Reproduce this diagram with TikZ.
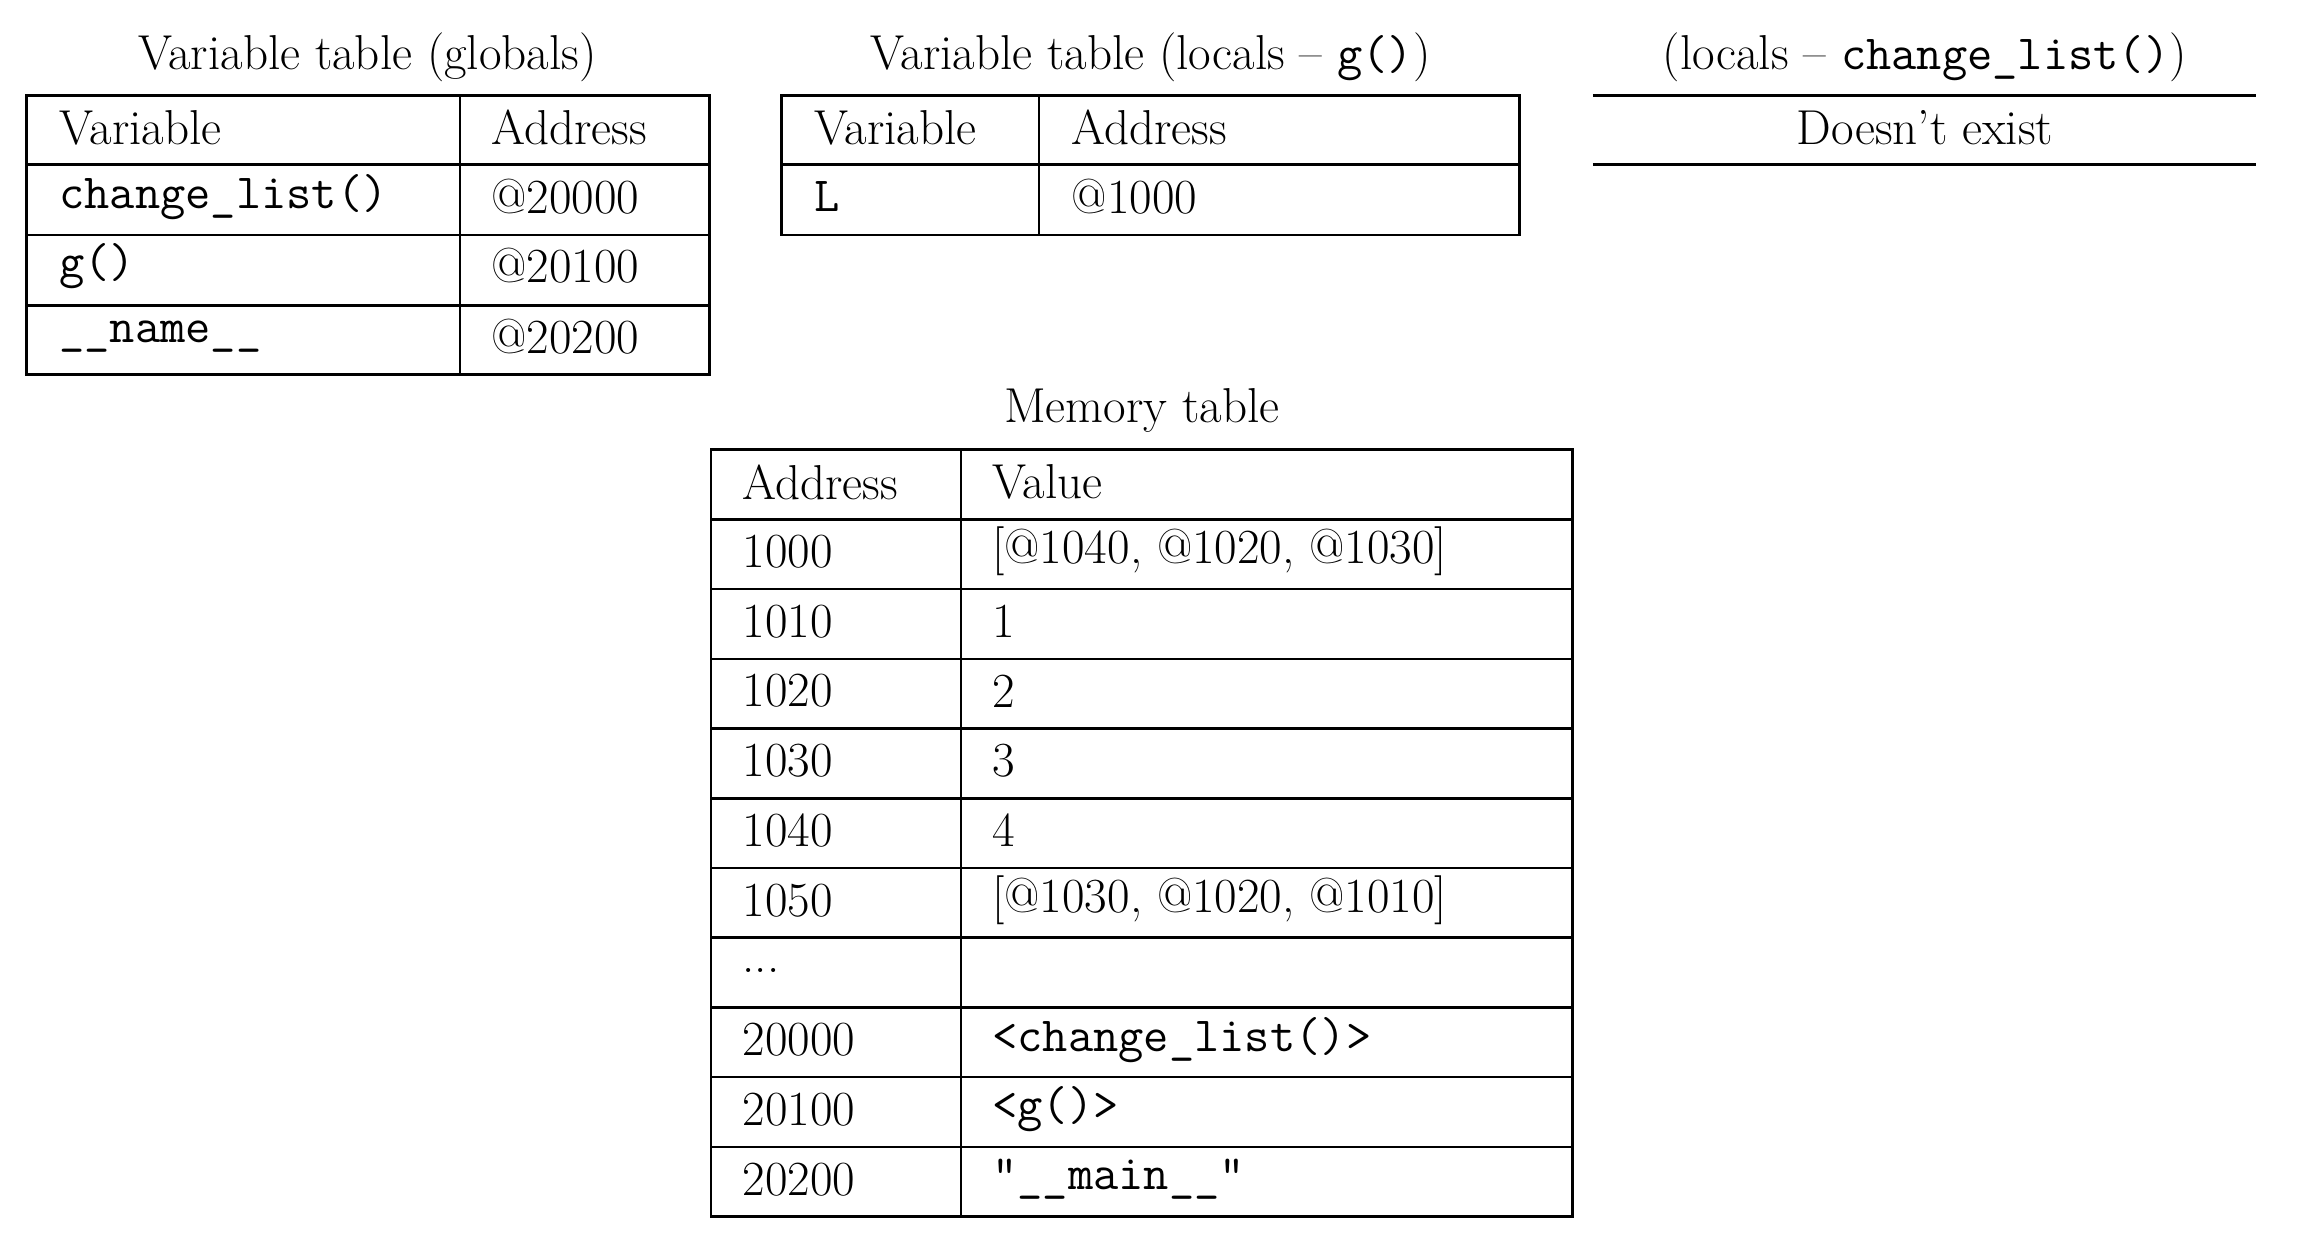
\documentclass[tikz,border=0pt]{standalone}
\begin{document}
\begin{tikzpicture}[x=0.02cm,y=-0.02cm,
  grid/.style={line width=1pt},
  cell/.style={anchor=west,inner sep=0pt,font=\fontsize{19}{21}\selectfont},
  ttl/.style={inner sep=0pt,font=\fontsize{19}{21}\selectfont}]
\useasboundingbox (0,0) rectangle (1568,844);
% globals
\draw[grid] (18,65) rectangle (483,255);
\foreach \y in {112,160,208} \draw[grid] (18,\y) -- (483,\y);
\draw[grid] (313,65) -- (313,255);
\node[ttl] (tg) at (250,39) {Variable table (globals)};
\node[cell] (g1) at (40,87) {Variable};
\node[cell] (g2) at (334,87) {Address};
\node[cell] (g3) at (40,134) {\texttt{change\_list()}};
\node[cell] (g4) at (334,134) {@20000};
\node[cell] (g5) at (40,181) {\texttt{g()}};
\node[cell] (g6) at (334,181) {@20100};
\node[cell] (g7) at (40,229) {\texttt{\_\_name\_\_}};
\node[cell] (g8) at (334,229) {@20200};
% locals g
\draw[grid] (532,65) rectangle (1034,160);
\draw[grid] (532,112) -- (1034,112);
\draw[grid] (707,65) -- (707,160);
\node[ttl] (tl) at (783,39) {Variable table (locals -- \texttt{g()})};
\node[cell] (l1) at (554,87) {Variable};
\node[cell] (l2) at (729,87) {Address};
\node[cell] (l3) at (554,134) {\texttt{L}};
\node[cell] (l4) at (729,134) {@1000};
% change_list
\draw[grid] (1084,65) -- (1535,65);
\draw[grid] (1084,112) -- (1535,112);
\node[ttl] (tc) at (1310,39) {(locals -- \texttt{change\_list()})};
\node[ttl] (dn) at (1310,87) {Doesn't exist};
% memory
\node[ttl] (tm) at (777,279) {Memory table};
\draw[grid] (484,306) rectangle (1070,828);
\foreach \i in {1,...,10} \draw[grid] (484,306+47.45*\i) -- (1070,306+47.45*\i);
\draw[grid] (654,306) -- (654,828);
\foreach \a/\v [count=\i from 0] in {Address/Value,1000/{[@1040, @1020, @1030]},1010/1,1020/2,1030/3,1040/4,1050/{[@1030, @1020, @1010]},{{.\kern0pt.\kern0pt.}}/{},20000/{\texttt{<change\_list()>}},20100/{\texttt{<g()>}},20200/{\texttt{"\_\_main\_\_"}}}{
  \node[cell] (ma\i) at (505,328+47.45*\i) {\a};
  \node[cell] (mv\i) at (675,328+47.45*\i) {\v};
}
\end{tikzpicture}
\end{document}
